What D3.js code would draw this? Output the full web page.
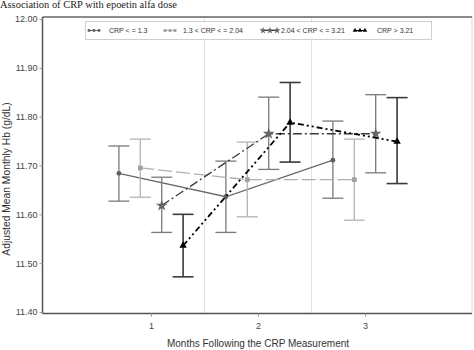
<!DOCTYPE html>
<html>
<head>
<meta charset="utf-8">
<script src="https://cdn.jsdelivr.net/npm/d3@7"></script>
<style>
  html, body { margin: 0; padding: 0; background: #fff; }
  svg { display: block; }
  text { font-family: "Liberation Sans", Arial, sans-serif; }
</style>
</head>
<body>
<svg id="chart" width="474" height="350"></svg>
<script>
// Adjusted mean monthly Hb by CRP group, months 1-3 after measurement
const months = [1, 2, 3];
const seriesNames = ["CRP < = 1.3", "1.3 < CRP < = 2.04", "2.04 < CRP < = 3.21", "CRP > 3.21"];

const mean1  = [11.684, 11.636, 11.711];
const lower1 = [11.627, 11.563, 11.633];
const upper1 = [11.740, 11.709, 11.791];

const mean2  = [11.695, 11.671, 11.671];
const lower2 = [11.635, 11.595, 11.588];
const upper2 = [11.754, 11.748, 11.754];

const mean3  = [11.618, 11.765, 11.765];
const lower3 = [11.563, 11.692, 11.685];
const upper3 = [11.676, 11.840, 11.845];

const mean4  = [11.536, 11.788, 11.749];
const lower4 = [11.472, 11.707, 11.663];
const upper4 = [11.600, 11.870, 11.839];

const yTickValues = [11.40, 11.50, 11.60, 11.70, 11.80, 11.90, 12.00];
const xTickValues = [1, 2, 3];
const refLines = [1.5, 2.5];

const titleText = "Association of CRP with epoetin alfa dose";
const xLabel = "Months Following the CRP Measurement";
const yLabel = "Adjusted Mean Monthly Hb (g/dL)";

// Styling per group (marker, line dash, colours)
const styles = [
  { shape: "circle",   dash: null,          line: "#6a6a6a", bar: "#7a7a7a", mark: "#5e5e5e", lw: 1.3, off: -0.3 },
  { shape: "square",   dash: "14,4",        line: "#b0b0b0", bar: "#b4b4b4", mark: "#a0a0a0", lw: 1.3, off: -0.1 },
  { shape: "star",     dash: "9,3,2,3",     line: "#3a3a3a", bar: "#7a7a7a", mark: "#666666", lw: 1.3, off: 0.1 },
  { shape: "triangle", dash: "6,3,2,3,2,3", line: "#000000", bar: "#3a3a3a", mark: "#000000", lw: 1.8, off: 0.3 }
];

const series = [
  { name: seriesNames[0], mean: mean1, lo: lower1, hi: upper1 },
  { name: seriesNames[1], mean: mean2, lo: lower2, hi: upper2 },
  { name: seriesNames[2], mean: mean3, lo: lower3, hi: upper3 },
  { name: seriesNames[3], mean: mean4, lo: lower4, hi: upper4 }
];

const svg = d3.select("#chart");
const frame = { left: 42.5, right: 472, top: 17, bottom: 313.5 };

const x = d3.scaleLinear().domain([0, 4]).range([44, 472]);
const y = d3.scaleLinear().domain([11.40, 12.00]).range([312, 19]);

// Title
svg.append("text")
  .attr("x", 0).attr("y", 8)
  .attr("textLength", 177).attr("lengthAdjust", "spacingAndGlyphs")
  .style("font-family", "'Liberation Serif', 'Times New Roman', serif")
  .style("font-size", "10.5px").attr("fill", "#222")
  .text(titleText);

// Reference lines between months
svg.selectAll("line.ref").data(refLines).enter().append("line")
  .attr("x1", d => x(d)).attr("x2", d => x(d))
  .attr("y1", frame.top).attr("y2", frame.bottom)
  .attr("stroke", "#e2e2e2").attr("stroke-width", 1);

// Right frame edge
svg.append("line")
  .attr("x1", frame.right).attr("x2", frame.right)
  .attr("y1", frame.top).attr("y2", frame.bottom)
  .attr("stroke", "#d8d8d8");

// Top frame edge
svg.append("line")
  .attr("x1", frame.left).attr("x2", frame.right)
  .attr("y1", frame.top).attr("y2", frame.top)
  .attr("stroke", "#666").attr("stroke-width", 1.3);

// Y axis
const yAxis = svg.append("g").attr("transform", `translate(${frame.left},0)`)
  .call(d3.axisLeft(y).tickValues(yTickValues).tickFormat(d3.format(".2f")).tickSize(3).tickPadding(2));
yAxis.select(".domain").attr("d", `M0,${frame.top}V${frame.bottom}`).attr("stroke", "#555").attr("stroke-width", 1.5);
yAxis.selectAll(".tick line").attr("stroke", "#999");
yAxis.selectAll(".tick text").style("font-size", "9px").attr("fill", "#444");

// X axis
const xAxis = svg.append("g").attr("transform", `translate(0,${frame.bottom})`)
  .call(d3.axisBottom(x).tickValues(xTickValues).tickFormat(d3.format("d")).tickSize(3).tickPadding(6));
xAxis.select(".domain").attr("d", `M${frame.left},0H${frame.right}`).attr("stroke", "#555").attr("stroke-width", 1.5);
xAxis.selectAll(".tick line").attr("stroke", "#999");
xAxis.selectAll(".tick text").style("font-size", "9px").attr("fill", "#444");

// Axis labels
svg.append("text")
  .attr("x", x(2)).attr("y", 347)
  .attr("text-anchor", "middle")
  .style("font-size", "10px").attr("fill", "#333")
  .text(xLabel);

svg.append("text")
  .attr("transform", `translate(10,179) rotate(-90)`)
  .attr("text-anchor", "middle")
  .style("font-size", "10.3px").attr("fill", "#333")
  .text(yLabel);

// Marker symbols
function symbolPath(shape, size) {
  const t = { circle: d3.symbolCircle, square: d3.symbolSquare, star: d3.symbolStar, triangle: d3.symbolTriangle }[shape];
  return d3.symbol().type(t).size(size)();
}
const markerSize = { circle: 18, square: 22, star: 42, triangle: 24 };

const capHalf = 10.5;

series.forEach((s, i) => {
  const st = styles[i];
  const g = svg.append("g");
  const pts = months.map((m, j) => ({ m, v: s.mean[j], lo: s.lo[j], hi: s.hi[j] }));
  const px = d => x(d.m + st.off);

  // Error bars
  const eb = g.selectAll("g.eb").data(pts).enter().append("g")
    .attr("stroke", st.bar).attr("stroke-width", i === 3 ? 1.6 : 1.3);
  eb.append("line").attr("x1", px).attr("x2", px).attr("y1", d => y(d.lo)).attr("y2", d => y(d.hi));
  eb.append("line").attr("x1", d => px(d) - capHalf).attr("x2", d => px(d) + capHalf).attr("y1", d => y(d.hi)).attr("y2", d => y(d.hi));
  eb.append("line").attr("x1", d => px(d) - capHalf).attr("x2", d => px(d) + capHalf).attr("y1", d => y(d.lo)).attr("y2", d => y(d.lo));

  // Connecting line
  g.append("path").datum(pts)
    .attr("d", d3.line().x(px).y(d => y(d.v)))
    .attr("fill", "none").attr("stroke", st.line).attr("stroke-width", st.lw)
    .attr("stroke-dasharray", st.dash);

  // Markers
  g.selectAll("path.mk").data(pts).enter().append("path")
    .attr("transform", d => `translate(${px(d)},${y(d.v)})`)
    .attr("d", symbolPath(st.shape, markerSize[st.shape]))
    .attr("fill", st.mark);
});

// Legend
const legend = svg.append("g");
legend.append("rect")
  .attr("x", 85.5).attr("y", 21.5).attr("width", 346).attr("height", 18)
  .attr("fill", "#fff").attr("stroke", "#cfcfcf").attr("stroke-width", 1);

const legendPos = [
  { sx: 89, tx: 109 },
  { sx: 165, tx: 183 },
  { sx: 263, tx: 281 },
  { sx: 355, tx: 377 }
];
const legendMarkerSize = { circle: 7, square: 8, star: 16, triangle: 9 };

series.forEach((s, i) => {
  const st = styles[i];
  const lp = legendPos[i];
  const ly = 30.5;
  const w = i === 2 ? 14 : 10;
  legend.append("line")
    .attr("x1", lp.sx).attr("x2", lp.sx + w).attr("y1", ly).attr("y2", ly)
    .attr("stroke", st.line).attr("stroke-width", 1);
  [0, 0.5, 1].forEach(f => {
    legend.append("path")
      .attr("transform", `translate(${lp.sx + f * w},${ly})`)
      .attr("d", symbolPath(st.shape, legendMarkerSize[st.shape]))
      .attr("fill", st.mark);
  });
  legend.append("text")
    .attr("x", lp.tx).attr("y", ly + 2.5)
    .style("font-size", "7px").attr("fill", "#333")
    .attr("xml:space", "preserve")
    .text(s.name);
});
</script>
</body>
</html>
